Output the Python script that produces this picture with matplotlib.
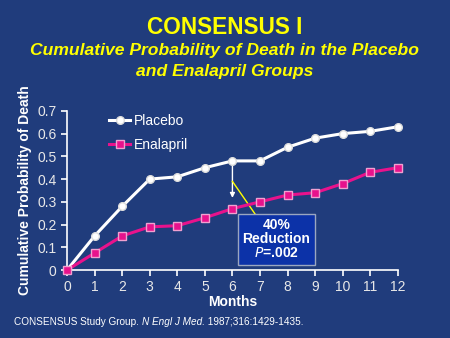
import matplotlib.pyplot as plt

plt.rcParams["font.family"] = ["Liberation Sans", "DejaVu Sans"]

# Data
months = [0, 1, 2, 3, 4, 5, 6, 7, 8, 9, 10, 11, 12]
placebo = [0, 0.15, 0.28, 0.40, 0.41, 0.45, 0.48, 0.48, 0.54, 0.58, 0.60, 0.61, 0.63]
enalapril = [0, 0.075, 0.15, 0.19, 0.195, 0.23, 0.27, 0.30, 0.33, 0.34, 0.38, 0.43, 0.45]
yticks = [0, 0.1, 0.2, 0.3, 0.4, 0.5, 0.6, 0.7]
ytick_labels = ["0", "0.1", "0.2", "0.3", "0.4", "0.5", "0.6", "0.7"]

bg = "#203c7c"
yellow = "#ffff00"
pink = "#e8128c"

fig = plt.figure(figsize=(4.5, 3.38), dpi=100, facecolor=bg)
ax = fig.add_axes([0.149, 0.201, 0.735, 0.471], facecolor=bg)

ax.plot(months, placebo, color="white", lw=2.2, marker="o", ms=5.5,
        mfc="white", mec="#dddddd", clip_on=False, zorder=4, label="Placebo")
ax.plot(months, enalapril, color=pink, lw=2.2, marker="s", ms=5.5,
        mfc=pink, mec="#f0a0d0", mew=1, clip_on=False, zorder=4, label="Enalapril")

ax.set_xlim(0, 12)
ax.set_ylim(0, 0.7)
ax.set_xticks(months)
ax.set_yticks(yticks)
ax.set_yticklabels(ytick_labels)
for s in ["top", "right"]:
    ax.spines[s].set_visible(False)
for s in ["left", "bottom"]:
    ax.spines[s].set_color("white")
    ax.spines[s].set_linewidth(1.2)
ax.tick_params(colors="white", labelcolor="#e8e8e8", labelsize=10, length=4, width=1.2)

ax.set_ylabel("Cumulative Probability of Death", color="white", fontsize=10,
              fontweight="bold", labelpad=4)
fig.text(ax.get_position().x0 + ax.get_position().width / 2, 1 - 302 / 338, "Months",
         color="white", fontsize=10, fontweight="bold", ha="center", va="center")

leg = ax.legend(loc="upper left", bbox_to_anchor=(0.09, 1.06), frameon=False,
                fontsize=10, labelcolor="white", handlelength=1.5,
                handletextpad=0.3, labelspacing=0.7)

# Annotation: arrow from placebo to enalapril at month 6
ax.annotate("", xy=(months[6], enalapril[6] + 0.035), xytext=(months[6], placebo[6]),
            arrowprops=dict(arrowstyle="-|>", color="white", lw=1, mutation_scale=7),
            zorder=3)
ax.plot([6.0, 6.87], [0.39, 0.238], color=yellow, lw=1, zorder=3)
ax.text(7.6, 0.135, "40%\nReduction\n$\\mathit{P}$=.002", color="white",
        fontsize=10, fontweight="bold", ha="center", va="center", linespacing=1.0,
        zorder=6,
        bbox=dict(boxstyle="square,pad=0.32", fc="#0c32a8", ec="#9aa6c0", lw=1))

# Titles
fig.text(0.5, 0.92, "CONSENSUS I", color=yellow, fontsize=16.3, fontweight="bold",
         ha="center", va="center")
fig.text(0.5, 0.852, "Cumulative Probability of Death in the Placebo", color=yellow,
         fontsize=12.6, fontweight="bold", style="italic", ha="center", va="center")
fig.text(0.5, 0.787, "and Enalapril Groups", color=yellow,
         fontsize=12.6, fontweight="bold", style="italic", ha="center", va="center")

# Footnote with italic journal name
fig.canvas.draw()
r = fig.canvas.get_renderer()
x = 14 / 450
parts = [("CONSENSUS Study Group. ", "normal"), ("N Engl J Med.", "italic"),
         (" 1987;316:1429-1435.", "normal")]
for txt, st in parts:
    t = fig.text(x, 1 - 322 / 338, txt, color="white", fontsize=7.2, style=st,
                 ha="left", va="center")
    bb = t.get_window_extent(renderer=r)
    x += bb.width / fig.bbox.width

fig.savefig("out.png", dpi=100, facecolor=bg)
